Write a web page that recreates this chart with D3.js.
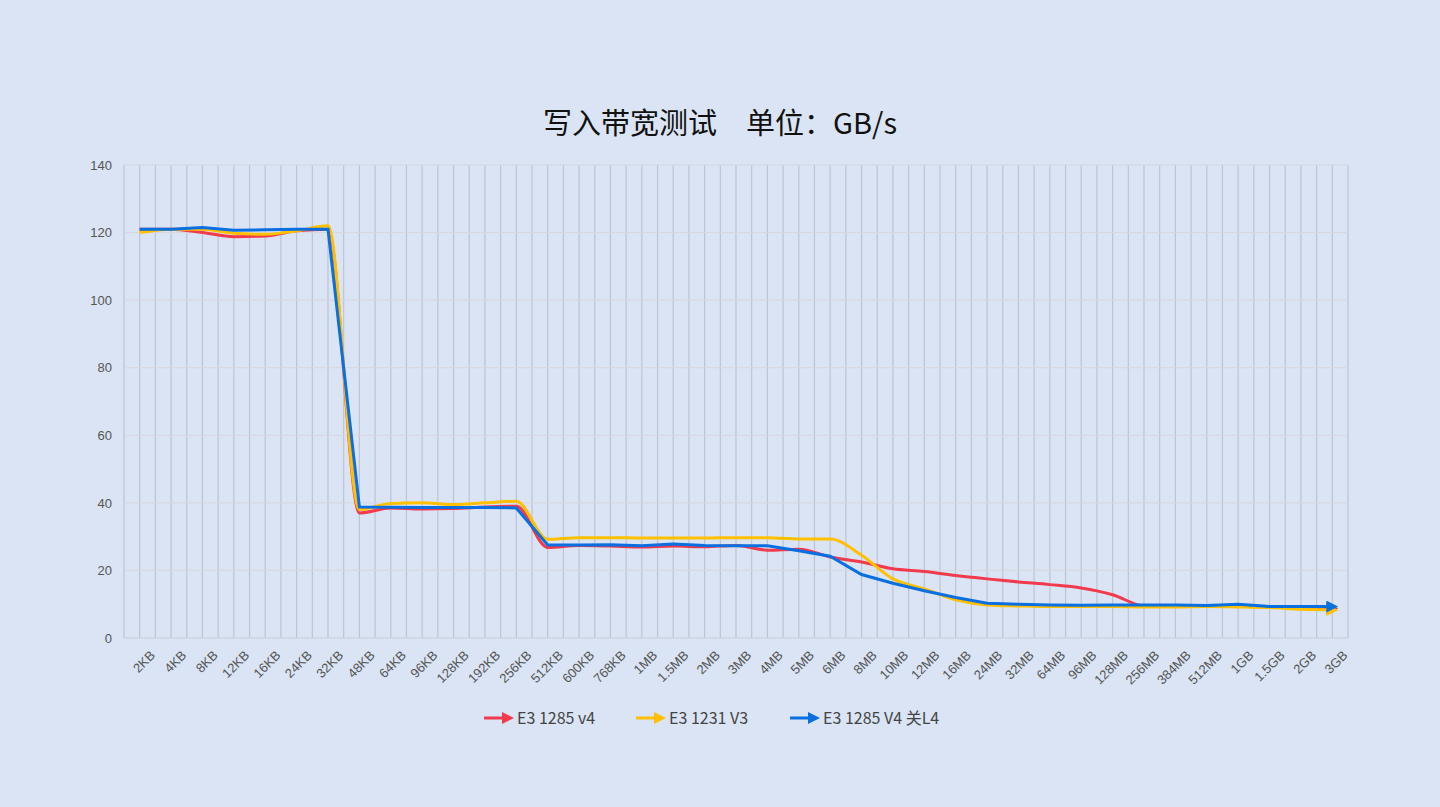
<!DOCTYPE html>
<html><head><meta charset="utf-8">
<script src="https://cdn.jsdelivr.net/npm/d3@7"></script>
<style>body{margin:0;background:#dae4f4;font-family:"Microsoft YaHei","Noto Sans CJK SC","Noto Sans",sans-serif;}</style>
</head><body>
<svg width="1440" height="807"></svg>
<script>
const categories = ["2KB","4KB","8KB","12KB","16KB","24KB","32KB","48KB","64KB","96KB","128KB","192KB","256KB","512KB","600KB","768KB","1MB","1.5MB","2MB","3MB","4MB","5MB","6MB","8MB","10MB","12MB","16MB","24MB","32MB","64MB","96MB","128MB","256MB","384MB","512MB","1GB","1.5GB","2GB","3GB"];
const red = [121,121,120,118.8,119,120.5,121,37,38.5,38.2,38.3,38.8,39,26.8,27.4,27.2,26.9,27.2,27,27.4,26,26.3,24,22.5,20.5,19.7,18.5,17.5,16.6,15.8,14.8,12.8,9.5,9.3,9.5,9.6,9.2,9,8.8];
const yellow = [120,121,121,119.8,119.5,120.5,122,38,39.8,40,39.5,40,40.5,29.2,29.7,29.7,29.6,29.6,29.6,29.7,29.7,29.3,29.3,24.5,17.5,14.5,11.3,9.8,9.5,9.3,9.3,9.3,9.2,9.2,9.3,9.2,9,8.5,8.3];
const blue = [121,121,121.5,120.7,120.8,121,121,38.8,38.7,38.6,38.6,38.6,38.5,27.5,27.5,27.6,27.3,27.8,27.4,27.3,27.3,25.8,24.2,18.8,16.2,14,12,10.3,10,9.8,9.7,9.8,9.8,9.8,9.6,10,9.3,9.3,9.3];
const series = [
  {name:"E3 1285 v4", values:red, color:"#f23a4d", curve:d3.curveMonotoneX},
  {name:"E3 1231 V3", values:yellow, color:"#ffc000", curve:d3.curveMonotoneX},
  {name:"E3 1285 V4 关L4", values:blue, color:"#0a6fe0", curve:d3.curveLinear}
];
const yTicks = [0,20,40,60,80,100,120,140];

const svg = d3.select("svg");
const plotL = 124, plotR = 1348, plotT = 165, plotB = 638;
const x = d3.scaleBand().domain(categories).range([plotL, plotR]);
const y = d3.scaleLinear().domain([0, 140]).range([plotB, plotT]);
const cx = d => x(d) + x.bandwidth() / 2;

const defs = svg.append("defs");
series.forEach((s, i) => {
  defs.append("marker").attr("id", "m" + i).attr("viewBox", "0 0 10 10")
    .attr("refX", 5).attr("refY", 5).attr("markerWidth", 4).attr("markerHeight", 4)
    .attr("orient", "auto")
    .append("path").attr("d", "M0,0L10,5L0,10z").attr("fill", s.color);
});

svg.append("text").attr("x", 720).attr("y", 134).attr("text-anchor", "middle")
  .attr("font-size", 29).attr("fill", "#111").text("写入带宽测试　单位：GB/s");

// gridlines: band edges and centers
const g = svg.append("g");
const vx = [];
categories.forEach(c => { vx.push(x(c)); vx.push(cx(c)); });
vx.push(plotR);
g.selectAll(".v").data(vx).enter().append("line")
  .attr("x1", d => d).attr("x2", d => d).attr("y1", plotT).attr("y2", plotB)
  .attr("stroke", "#bcc4d2").attr("stroke-width", 1.2);
g.selectAll(".h").data(yTicks).enter().append("line")
  .attr("x1", plotL).attr("x2", plotR).attr("y1", d => y(d)).attr("y2", d => y(d))
  .attr("stroke", d => d === 0 ? "#c8ccd8" : "#d8d6e0").attr("stroke-width", 1);

const yAxis = svg.append("g").attr("transform", `translate(${plotL},0)`)
  .call(d3.axisLeft(y).tickValues(yTicks).tickSize(0).tickPadding(12));
yAxis.select(".domain").remove();
yAxis.selectAll("text").attr("font-size", 13).attr("fill", "#555").attr("font-family", "inherit");

const xAxis = svg.append("g").attr("transform", `translate(0,${plotB})`)
  .call(d3.axisBottom(x).tickSize(0).tickPadding(8));
xAxis.select(".domain").remove();
xAxis.selectAll("text").attr("font-size", 13).attr("fill", "#555").attr("font-family", "inherit")
  .attr("text-anchor", "end").attr("transform", "translate(4,6) rotate(-45)");

series.forEach((s, i) => {
  const line = d3.line().x((d, j) => cx(categories[j])).y(d => y(d)).curve(s.curve);
  svg.append("path").datum(s.values).attr("d", line).attr("fill", "none")
    .attr("stroke", s.color).attr("stroke-width", 3)
    .attr("marker-end", `url(#m${i})`);
});

const legX = [484, 636, 790];
series.forEach((s, i) => {
  const lg = svg.append("g").attr("transform", `translate(${legX[i]},718)`);
  lg.append("line").attr("x1", 0).attr("x2", 24).attr("stroke", s.color).attr("stroke-width", 3)
    .attr("marker-end", `url(#m${i})`);
  lg.append("text").attr("x", 33).attr("y", 6).attr("font-size", 16).attr("fill", "#444").text(s.name);
});
</script>
</body></html>
